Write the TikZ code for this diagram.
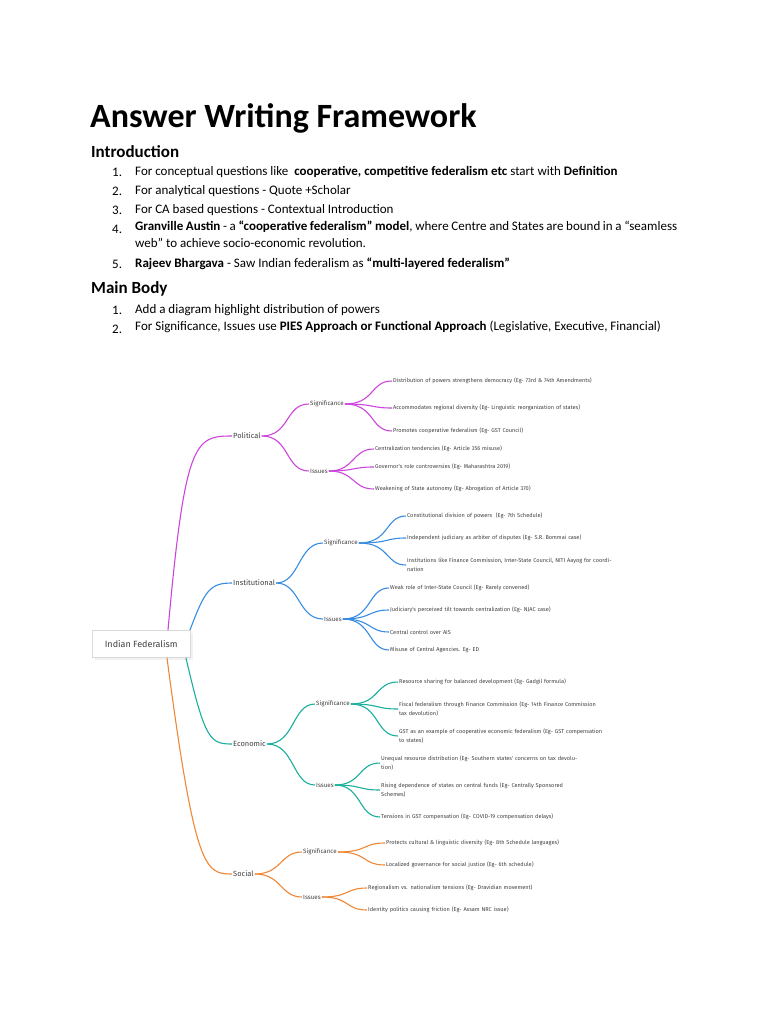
\documentclass[tikz,border=0pt]{standalone}
\usepackage{fontspec}
\setmainfont{Carlito}
\newfontfamily\mmfont{Fira Sans}
\usetikzlibrary{shadows}
\begin{document}
\begin{tikzpicture}[x=1pt,y=-1pt,
  txt/.style={anchor=west,inner sep=0,font=\fontsize{13}{17}\selectfont},
  itm/.style={anchor=north west,inner sep=0,text width=542pt,align=justify,font=\fontsize{13}{16.5}\selectfont},
  num/.style={anchor=west,inner sep=0,font=\fontsize{13}{17}\selectfont},
  br/.style={anchor=west,inner sep=1pt,font=\mmfont\fontsize{7.5}{9}\selectfont,text=black!75},
  sb/.style={anchor=west,inner sep=1pt,font=\mmfont\fontsize{6.2}{8}\selectfont,text=black!75},
  lf/.style={anchor=west,inner sep=1pt,text width=205pt,align=left,font=\mmfont\fontsize{5.6}{8.6}\selectfont,text=black!75},
  cn/.style={line width=1.1pt},
]
\useasboundingbox (0,0) rectangle (768,1024);
\definecolor{cpol}{RGB}{205,70,220}
\definecolor{cins}{RGB}{55,140,225}
\definecolor{ceco}{RGB}{25,175,155}
\definecolor{csoc}{RGB}{240,135,55}

\node[anchor=west,inner sep=0,font=\bfseries\fontsize{34}{36}\selectfont] (title) at (90,118) {Answer Writing Framework};
\node[anchor=west,inner sep=0,font=\bfseries\fontsize{17}{20}\selectfont] (intro) at (91,152) {Introduction};
\node[num] (n1) at (112,172) {1.};
\node[txt] (i1) at (135,172) {For conceptual questions like \textbf{ cooperative, competitive federalism etc} start with \textbf{Definition}};
\node[num] (n2) at (112,191) {2.};
\node[txt] (i2) at (135,191) {For analytical questions - Quote +Scholar};
\node[num] (n3) at (112,210) {3.};
\node[txt] (i3) at (135,210) {For CA based questions - Contextual Introduction};
\node[num] (n4) at (112,229) {4.};
\node[itm] (i4) at (135,221) {\textbf{Granville Austin} - a \textbf{``cooperative federalism'' model}, where Centre and States are bound in a ``seamless web'' to achieve socio-economic revolution.};
\node[num] (n5) at (112,264) {5.};
\node[txt] (i5) at (135,264) {\textbf{Rajeev Bhargava} - Saw Indian federalism as \textbf{``multi-layered federalism''}};

\node[anchor=west,inner sep=0,font=\bfseries\fontsize{17}{20}\selectfont] (mb) at (91,289) {Main Body};
\node[num] (m1) at (112,310) {1.};
\node[txt] (j1) at (135,310) {Add a diagram highlight distribution of powers};
\node[num] (m2) at (112,329) {2.};
\node[itm] (j2) at (135,321) {For Significance, Issues use \textbf{PIES Approach or Functional Approach} (Legislative, Executive, Financial)};

% mind map
\node[draw=black!15,fill=white,anchor=west,minimum width=98pt,minimum height=27pt,inner xsep=3pt,font=\mmfont\fontsize{9}{11}\selectfont,text=black!75,drop shadow={opacity=0.1}] (root) at (92,644) {Indian Federalism\hspace{12pt}};
\coordinate (rp) at (168,630);
\coordinate (rb) at (190,630);
\coordinate (re) at (186,658);
\coordinate (rs) at (167,658);

\node[br] (pol) at (232,436) {Political};
\node[br] (ins) at (232,583) {Institutional};
\node[br] (eco) at (232,744) {Economic};
\node[br] (soc) at (232,874) {Social};

\draw[cn,cpol] (rp) .. controls (185,440) and (195,436) .. (pol.west);
\draw[cn,cins] (rb) .. controls (205,590) and (210,583) .. (ins.west);
\draw[cn,ceco] (re) .. controls (205,740) and (210,744) .. (eco.west);
\draw[cn,csoc] (rs) .. controls (195,870) and (205,874) .. (soc.west);

% Political
\node[sb] (ps) at (309,404) {Significance};
\node[sb] (pi) at (309,471) {Issues};
\draw[cn,cpol] (pol.east) .. controls (290,436) and (285,404) .. (ps.west);
\draw[cn,cpol] (pol.east) .. controls (290,436) and (285,471) .. (pi.west);
\node[lf] (ps1) at (392,381) {Distribution of powers strengthens democracy (Eg- 73rd \& 74th Amendments)};
\node[lf] (ps2) at (392,408) {Accommodates regional diversity (Eg- Linguistic reorganization of states)};
\node[lf] (ps3) at (392,431) {Promotes cooperative federalism (Eg- GST Council)};
\foreach \c in {ps1,ps2,ps3}{\draw[cn,cpol] (ps.east) .. controls (375,404) and (370,0|-\c.west) .. (\c.west);}
\node[lf] (pi1) at (374,449) {Centralization tendencies (Eg- Article 356 misuse)};
\node[lf] (pi2) at (374,467) {Governor's role controversies (Eg- Maharashtra 2019)};
\node[lf] (pi3) at (374,489) {Weakening of State autonomy (Eg- Abrogation of Article 370)};
\foreach \c in {pi1,pi2,pi3}{\draw[cn,cpol] (pi.east) .. controls (355,471) and (352,0|-\c.west) .. (\c.west);}

% Institutional
\node[sb] (is) at (323,543) {Significance};
\node[sb] (ii) at (323,619) {Issues};
\draw[cn,cins] (ins.east) .. controls (300,583) and (298,543) .. (is.west);
\draw[cn,cins] (ins.east) .. controls (300,583) and (298,619) .. (ii.west);
\node[lf] (is1) at (406,516) {Constitutional division of powers \ (Eg- 7th Schedule)};
\node[lf] (is2) at (406,538) {Independent judiciary as arbiter of disputes (Eg- S.R. Bommai case)};
\node[lf] (is3) at (406,565) {Institutions like Finance Commission, Inter-State Council, NITI Aayog for coordination};
\foreach \c in {is1,is2,is3}{\draw[cn,cins] (is.east) .. controls (390,543) and (385,0|-\c.west) .. (\c.west);}
\node[lf] (ii1) at (389,588) {Weak role of Inter-State Council (Eg- Rarely convened)};
\node[lf] (ii2) at (389,610) {Judiciary's perceived tilt towards centralization (Eg- NJAC case)};
\node[lf] (ii3) at (389,632) {Central control over AIS};
\node[lf] (ii4) at (389,650) {Misuse of Central Agencies. Eg- ED};
\foreach \c in {ii1,ii2,ii3,ii4}{\draw[cn,cins] (ii.east) .. controls (372,619) and (368,0|-\c.west) .. (\c.west);}

% Economic
\node[sb] (es) at (315,704) {Significance};
\node[sb] (ei) at (315,785) {Issues};
\draw[cn,ceco] (eco.east) .. controls (295,744) and (292,704) .. (es.west);
\draw[cn,ceco] (eco.east) .. controls (295,744) and (292,785) .. (ei.west);
\node[lf] (es1) at (398,682) {Resource sharing for balanced development (Eg- Gadgil formula)};
\node[lf] (es2) at (398,709) {Fiscal federalism through Finance Commission (Eg- 14th Finance Commission tax devolution)};
\node[lf] (es3) at (398,736) {GST as an example of cooperative economic federalism (Eg- GST compensation to states)};
\foreach \c in {es1,es2,es3}{\draw[cn,ceco] (es.east) .. controls (380,704) and (375,0|-\c.west) .. (\c.west);}
\node[lf] (ei1) at (380,763) {Unequal resource distribution (Eg- Southern states' concerns on tax devolution)};
\node[lf] (ei2) at (380,790) {Rising dependence of states on central funds (Eg- Centrally Sponsored Schemes)};
\node[lf] (ei3) at (380,817) {Tensions in GST compensation (Eg- COVID-19 compensation delays)};
\foreach \c in {ei1,ei2,ei3}{\draw[cn,ceco] (ei.east) .. controls (362,785) and (358,0|-\c.west) .. (\c.west);}

% Social
\node[sb] (ss) at (302,852) {Significance};
\node[sb] (si) at (302,897) {Issues};
\draw[cn,csoc] (soc.east) .. controls (282,874) and (280,852) .. (ss.west);
\draw[cn,csoc] (soc.east) .. controls (282,874) and (280,897) .. (si.west);
\node[lf] (ss1) at (385,843) {Protects cultural \& linguistic diversity (Eg- 8th Schedule languages)};
\node[lf] (ss2) at (385,865) {Localized governance for social justice (Eg- 6th schedule)};
\foreach \c in {ss1,ss2}{\draw[cn,csoc] (ss.east) .. controls (368,852) and (362,0|-\c.west) .. (\c.west);}
\node[lf] (si1) at (367,888) {Regionalism vs. nationalism tensions (Eg- Dravidian movement)};
\node[lf] (si2) at (367,910) {Identity politics causing friction (Eg- Assam NRC issue)};
\foreach \c in {si1,si2}{\draw[cn,csoc] (si.east) .. controls (350,897) and (345,0|-\c.west) .. (\c.west);}
\end{tikzpicture}
\end{document}
